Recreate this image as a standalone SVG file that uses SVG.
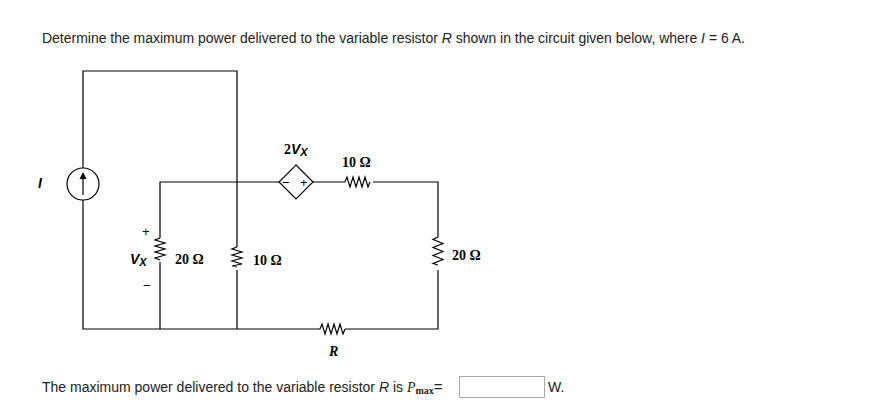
<svg xmlns="http://www.w3.org/2000/svg" width="869" height="419" viewBox="0 0 869 419">
<style>
.w{fill:none;stroke:#000;stroke-width:1.2}
.t{font-family:"Liberation Sans",Arial,sans-serif;font-size:14px;fill:#222}
.v{font-family:"Liberation Serif",serif;font-weight:bold;font-size:14px}
.vx{font-family:"Liberation Sans",Arial,sans-serif;font-weight:bold;font-style:italic;font-size:14px}
</style>
<rect width="869" height="419" fill="#fff"/>
<text class="t" x="42" y="43" textLength="703" lengthAdjust="spacingAndGlyphs">Determine the maximum power delivered to the variable resistor <tspan font-style="italic">R</tspan> shown in the circuit given below, where <tspan font-style="italic">I</tspan> = 6 A.</text>
<g id="wires">
<path class="w" d="M83,168 V71 H237 V247 M237,270 V329 H320 M345,329 H438 V270 M438,237 V182 H373 M345,182 H313 M279,182 H160 V238 M160,262 V329 M83,200 V329 H237"/>
</g>
<g id="source"><circle class="w" cx="83" cy="184" r="16"/><path class="w" d="M83,195 V175"/><path d="M83,172 l-3.5,7 h7 z"/><text x="38" y="188" class="vx" font-weight="normal">I</text></g>
<g id="dep"><path class="w" d="M296,165 L313,182 L296,199 L279,182 Z"/><text x="282" y="187" font-family="Liberation Sans,sans-serif" font-size="13">−</text><text x="300" y="187" font-family="Liberation Sans,sans-serif" font-size="13">+</text><text x="284" y="154" class="v">2<tspan class="vx">V<tspan font-size="11" dy="2">X</tspan></tspan></text></g>
<g id="r1"><path class="w" d="M345,182 l2,-5 l3,10 l3,-10 l3,10 l3,-10 l3,10 l3,-10 l3,10 l2,-5"/><text x="342" y="167" class="v">10 Ω</text></g>
<g id="r20a"><path class="w" d="M160,238 l-5,2 l10,3 l-10,3 l10,3 l-10,3 l10,3 l-10,3 l5,2"/><text x="175" y="264" class="v">20 Ω</text>
<text x="142" y="236" font-family="Liberation Sans,sans-serif" font-size="13">+</text><text x="130" y="264" class="vx">V<tspan font-size="11" dy="2">X</tspan></text><text x="143" y="290" font-family="Liberation Sans,sans-serif" font-size="13">−</text></g>
<g id="r10"><path class="w" d="M237,247 l-5,2 l10,3 l-10,3 l10,3 l-10,3 l10,3 l-10,2 l5,1"/><text x="253" y="265" class="v">10 Ω</text></g>
<g id="r20b"><path class="w" d="M438,237 l-5,2.5 l10,4 l-10,4 l10,4 l-10,4 l10,4 l-10,4 l5,1.5"/><text x="452" y="260" class="v">20 Ω</text></g>
<g id="rR"><path class="w" d="M320,329 l2,-5 l3,10 l3,-10 l3,10 l3,-10 l3,10 l3,-10 l3,10 l2,-5"/><text x="329" y="356" class="v" font-style="italic">R</text></g>
<text class="t" x="42" y="392">The maximum power delivered to the variable resistor <tspan font-style="italic">R</tspan> is <tspan font-family="Liberation Serif,serif" font-style="italic" font-size="14">P</tspan><tspan font-family="Liberation Serif,serif" font-weight="bold" font-size="10" dy="2">max</tspan><tspan dy="-2" font-size="15">=</tspan></text>
<rect x="459.5" y="376.5" width="85" height="21" fill="#fff" stroke="#aaa"/>
<text class="t" x="548" y="392">W.</text>
</svg>
